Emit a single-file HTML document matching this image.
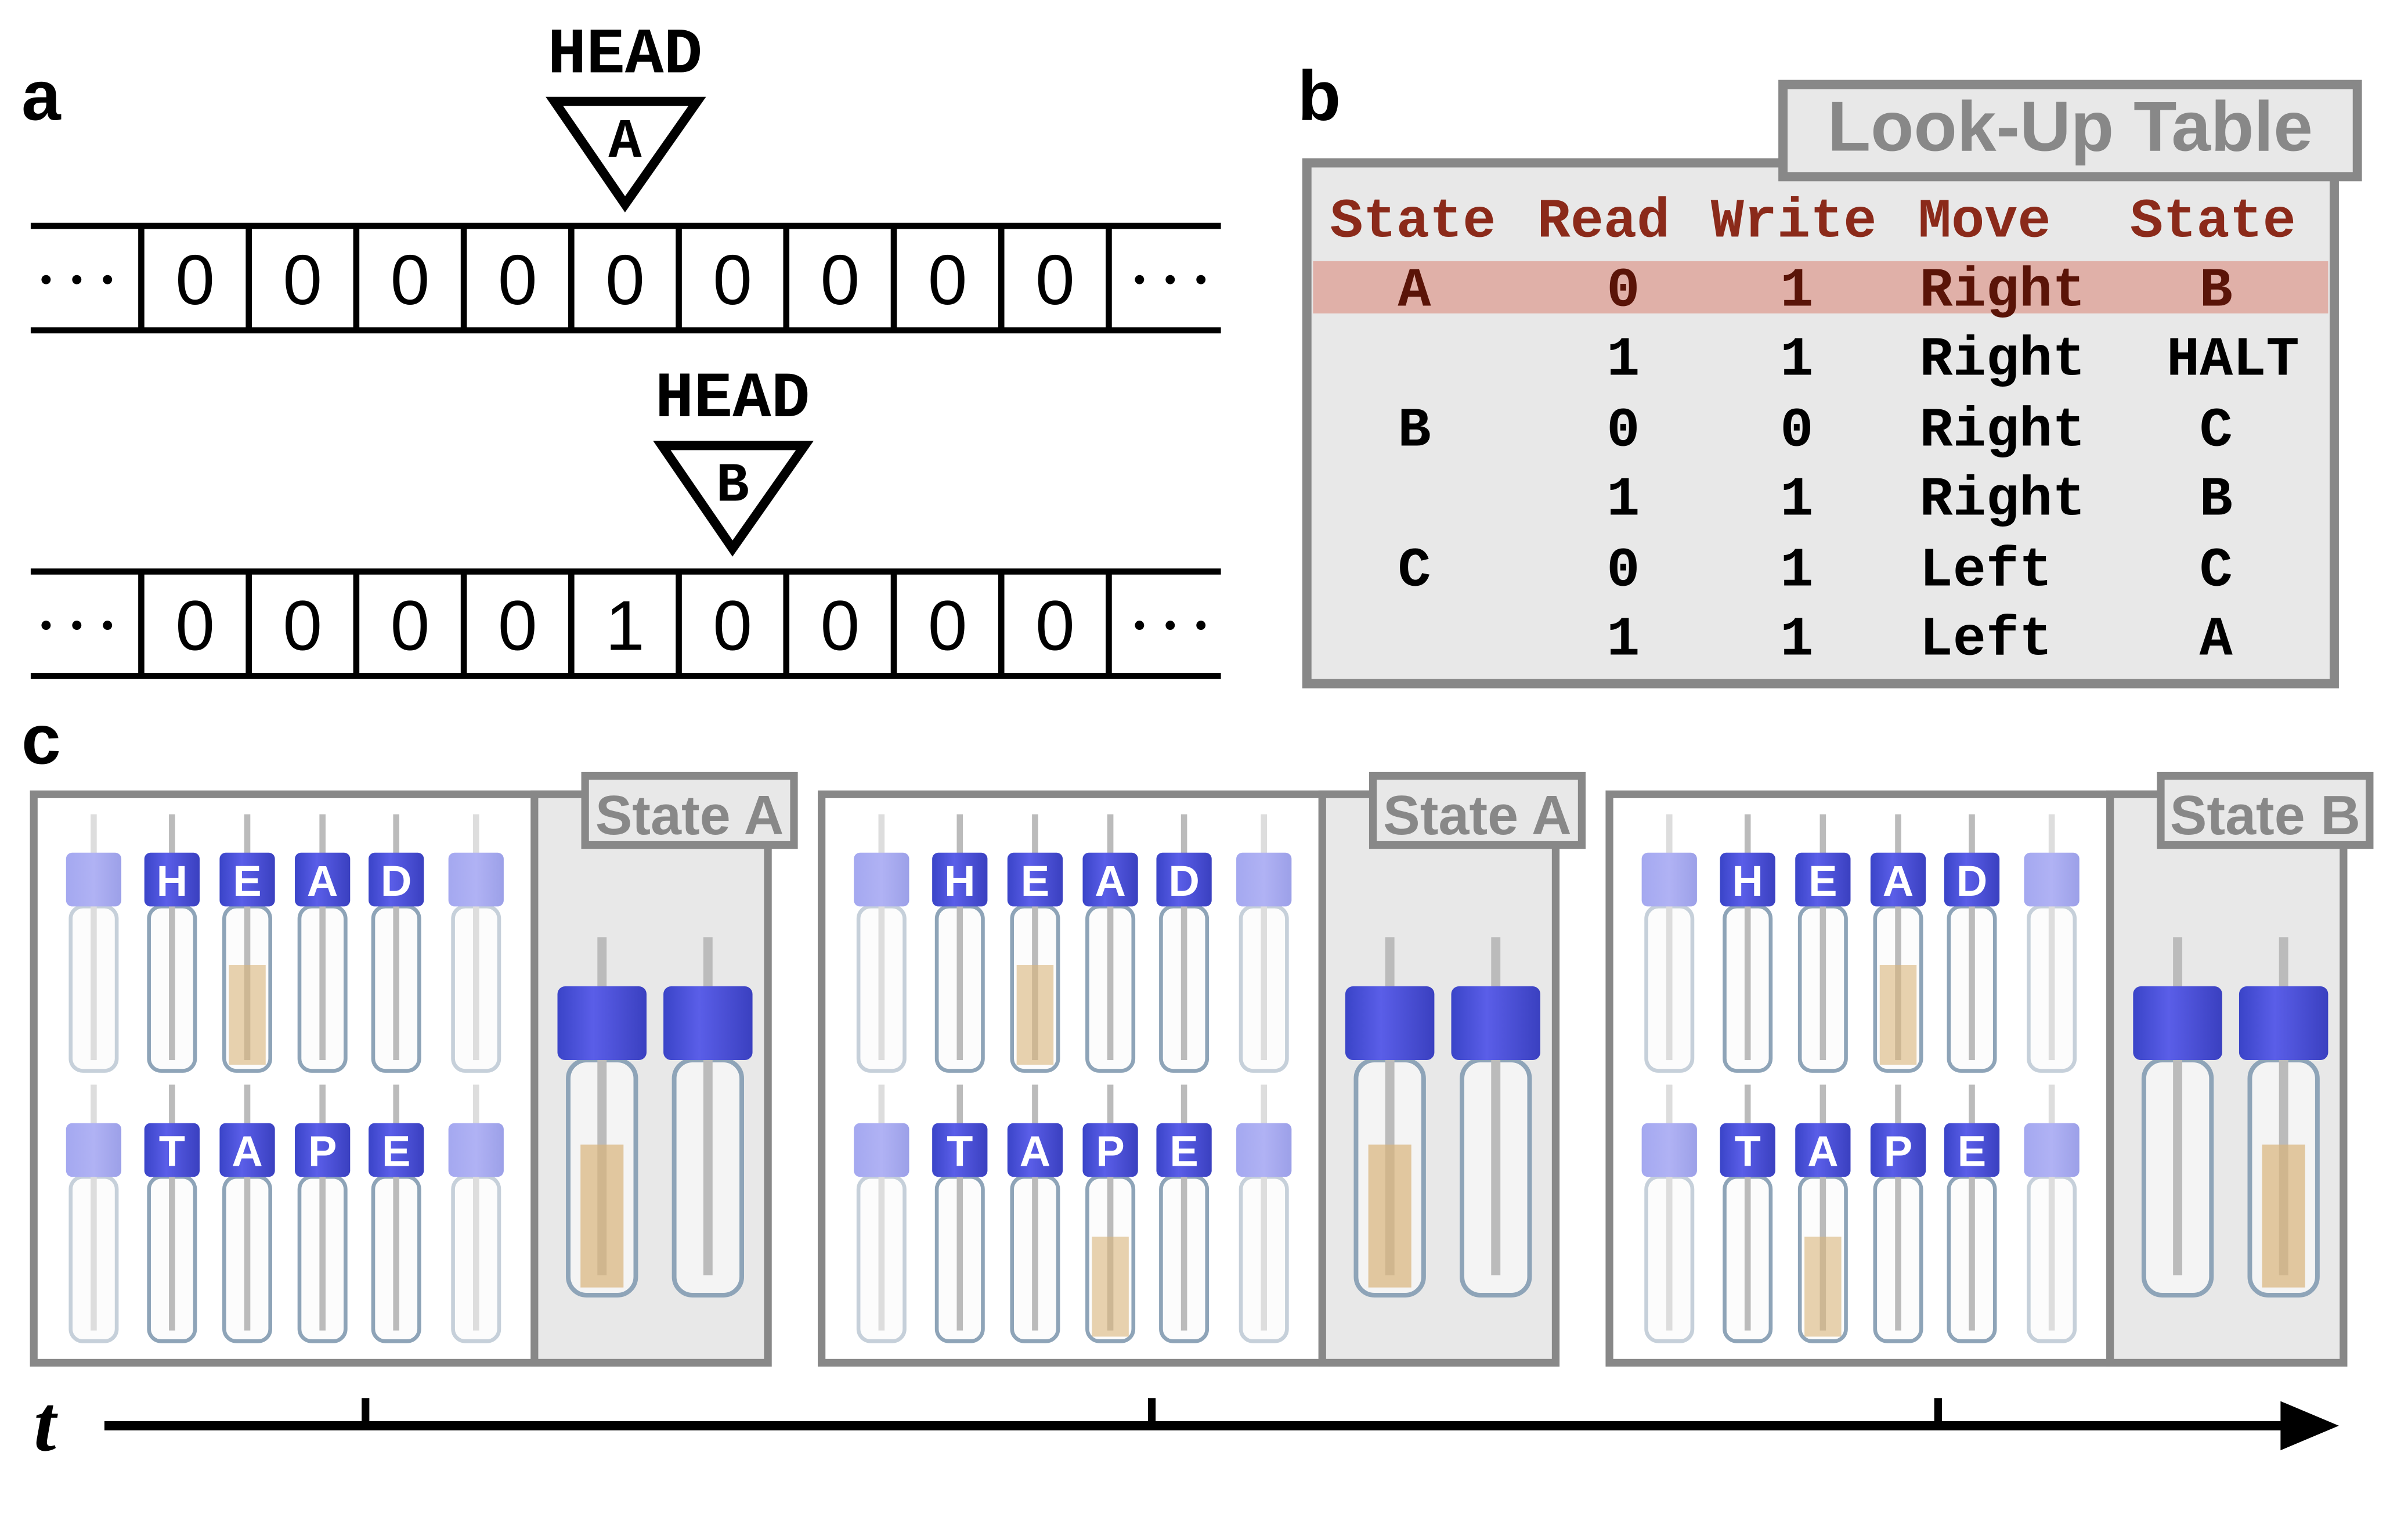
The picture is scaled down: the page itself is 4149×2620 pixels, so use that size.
<!DOCTYPE html>
<html><head><meta charset="utf-8"><style>
html,body{margin:0;padding:0;background:#fff;}
svg{display:block;}
.mono{font-family:"Liberation Mono",monospace;font-weight:bold;}
.sans{font-family:"Liberation Sans",sans-serif;font-weight:bold;}
</style></head><body>
<svg width="4149" height="2620" viewBox="0 0 1568 990" preserveAspectRatio="none" xmlns="http://www.w3.org/2000/svg">
<defs>
<linearGradient id="cap" x1="0" x2="1" y1="0" y2="0">
<stop offset="0" stop-color="#3a44c8"/><stop offset="0.4" stop-color="#5a5ee8"/><stop offset="1" stop-color="#3a40c0"/></linearGradient>
<linearGradient id="capl" x1="0" x2="1"><stop offset="0" stop-color="#a4a8f0"/><stop offset="0.5" stop-color="#b0b2f4"/><stop offset="1" stop-color="#9ca0e8"/></linearGradient>
</defs>
<rect width="1568" height="990" fill="#fff"/>
<text x="14" y="78" class="sans" font-size="46">a</text>
<text x="845" y="78" class="sans" font-size="46">b</text>
<text x="14" y="497" class="sans" font-size="46">c</text>

<g stroke="#000" stroke-width="4" fill="none">
<line x1="20" y1="147" x2="795" y2="147"/><line x1="20" y1="215" x2="795" y2="215"/>
<line x1="20" y1="372" x2="795" y2="372"/><line x1="20" y1="440" x2="795" y2="440"/>
<g id="cells">
<line x1="92" y1="147" x2="92" y2="215"/><line x1="162" y1="147" x2="162" y2="215"/><line x1="232" y1="147" x2="232" y2="215"/><line x1="302" y1="147" x2="302" y2="215"/><line x1="372" y1="147" x2="372" y2="215"/><line x1="442" y1="147" x2="442" y2="215"/><line x1="512" y1="147" x2="512" y2="215"/><line x1="582" y1="147" x2="582" y2="215"/><line x1="652" y1="147" x2="652" y2="215"/><line x1="722" y1="147" x2="722" y2="215"/>
</g>
<use href="#cells" transform="translate(0,225)"/>
<polygon points="361,66 454,66 407,133" stroke-width="6"/>
<polygon points="431,290 524,290 477,357" stroke-width="6"/>
</g>
<g class="sans" font-size="46" text-anchor="middle" style="font-weight:normal">
<text x="127" y="198">0</text><text x="197" y="198">0</text><text x="267" y="198">0</text><text x="337" y="198">0</text><text x="407" y="198">0</text><text x="477" y="198">0</text><text x="547" y="198">0</text><text x="617" y="198">0</text><text x="687" y="198">0</text>
<text x="127" y="423">0</text><text x="197" y="423">0</text><text x="267" y="423">0</text><text x="337" y="423">0</text><text x="407" y="423">1</text><text x="477" y="423">0</text><text x="547" y="423">0</text><text x="617" y="423">0</text><text x="687" y="423">0</text>
</g>
<g fill="#000">
<circle cx="30" cy="182" r="3"/><circle cx="50" cy="182" r="3"/><circle cx="70" cy="182" r="3"/>
<circle cx="742" cy="182" r="3"/><circle cx="762" cy="182" r="3"/><circle cx="782" cy="182" r="3"/>
<circle cx="30" cy="407" r="3"/><circle cx="50" cy="407" r="3"/><circle cx="70" cy="407" r="3"/>
<circle cx="742" cy="407" r="3"/><circle cx="762" cy="407" r="3"/><circle cx="782" cy="407" r="3"/>
</g>
<g class="mono" text-anchor="middle">
<text x="407" y="47" font-size="42">HEAD</text>
<text x="407" y="102" font-size="36">A</text>
<text x="477" y="271" font-size="42">HEAD</text>
<text x="477" y="326" font-size="36">B</text>
</g>

<rect x="851" y="106" width="669" height="339" fill="#e8e8e8" stroke="#888" stroke-width="6"/>
<rect x="1161" y="55" width="374" height="60" fill="#e8e8e8" stroke="#888" stroke-width="6"/>
<text x="1348" y="98" class="sans" font-size="46" fill="#888" text-anchor="middle">Look-Up Table</text>
<rect x="855" y="170" width="661" height="34" fill="#e0b0a8"/>
<g class="mono" font-size="36" fill="#8b2a1a">
<text x="866" y="154">State</text><text x="1001" y="154">Read</text><text x="1114" y="154">Write</text><text x="1249" y="154">Move</text><text x="1387" y="154">State</text>
</g>
<g class="mono" font-size="36">
<g fill="#5a1408"><text x="921" y="199" text-anchor="middle">A</text><text x="1057" y="199" text-anchor="middle">0</text><text x="1170" y="199" text-anchor="middle">1</text><text x="1250" y="199">Right</text><text x="1443" y="199" text-anchor="middle">B</text></g>
<text x="1057" y="244" text-anchor="middle">1</text><text x="1170" y="244" text-anchor="middle">1</text><text x="1250" y="244">Right</text><text x="1454" y="244" text-anchor="middle">HALT</text>
<text x="921" y="290" text-anchor="middle">B</text><text x="1057" y="290" text-anchor="middle">0</text><text x="1170" y="290" text-anchor="middle">0</text><text x="1250" y="290">Right</text><text x="1443" y="290" text-anchor="middle">C</text>
<text x="1057" y="335" text-anchor="middle">1</text><text x="1170" y="335" text-anchor="middle">1</text><text x="1250" y="335">Right</text><text x="1443" y="335" text-anchor="middle">B</text>
<text x="921" y="381" text-anchor="middle">C</text><text x="1057" y="381" text-anchor="middle">0</text><text x="1170" y="381" text-anchor="middle">1</text><text x="1250" y="381">Left</text><text x="1443" y="381" text-anchor="middle">C</text>
<text x="1057" y="426" text-anchor="middle">1</text><text x="1170" y="426" text-anchor="middle">1</text><text x="1250" y="426">Left</text><text x="1443" y="426" text-anchor="middle">A</text>
</g>

<defs>
<g id="tubeL">
<rect x="-15" y="590" width="30" height="107" rx="8" fill="#fcfcfc" stroke="#c6d0da" stroke-width="2.5"/>
<rect x="-2" y="530" width="4" height="160" fill="#ddd"/>
<rect x="-18" y="555" width="36" height="35" rx="4" fill="url(#capl)"/>
</g>
<g id="tubeD">
<rect x="-15" y="590" width="30" height="107" rx="8" fill="#fcfcfc" stroke="#8ea4b8" stroke-width="2.5"/>
<rect x="-2" y="530" width="4" height="160" fill="#bbb"/>
</g>
<g id="liq"><rect x="-12" y="628" width="24" height="65" fill="#d8b47a" opacity="0.6"/></g>
<g id="bigT">
<rect x="-22" y="690" width="44" height="153" rx="12" fill="#f4f4f4" stroke="#8ea4b8" stroke-width="3"/>
<rect x="-3" y="610" width="6" height="220" fill="#bbb"/>
</g>
<g id="bigC"><rect x="-29" y="642" width="58" height="48" rx="5" fill="url(#cap)"/></g>
<g id="panel">
<rect x="22" y="517" width="478" height="370" fill="#fff" stroke="#888" stroke-width="5"/>
<rect x="348" y="517" width="152" height="370" fill="#e8e8e8" stroke="#888" stroke-width="5"/>
<use href="#tubeL" x="61"/><use href="#tubeD" x="112"/><use href="#tubeD" x="161"/><use href="#tubeD" x="210"/><use href="#tubeD" x="258"/><use href="#tubeL" x="310"/>
<use href="#tubeL" x="61" y="176"/><use href="#tubeD" x="112" y="176"/><use href="#tubeD" x="161" y="176"/><use href="#tubeD" x="210" y="176"/><use href="#tubeD" x="258" y="176"/><use href="#tubeL" x="310" y="176"/>
<use href="#bigT" x="392"/><use href="#bigT" x="461"/>
</g>
<g id="caps">
<rect x="94" y="555" width="36" height="35" rx="4" fill="url(#cap)"/><rect x="143" y="555" width="36" height="35" rx="4" fill="url(#cap)"/><rect x="192" y="555" width="36" height="35" rx="4" fill="url(#cap)"/><rect x="240" y="555" width="36" height="35" rx="4" fill="url(#cap)"/>
<rect x="94" y="731" width="36" height="35" rx="4" fill="url(#cap)"/><rect x="143" y="731" width="36" height="35" rx="4" fill="url(#cap)"/><rect x="192" y="731" width="36" height="35" rx="4" fill="url(#cap)"/><rect x="240" y="731" width="36" height="35" rx="4" fill="url(#cap)"/>
<use href="#bigC" x="392"/><use href="#bigC" x="461"/>
<g class="sans" font-size="28" fill="#fff" text-anchor="middle">
<text x="112" y="583">H</text><text x="161" y="583">E</text><text x="210" y="583">A</text><text x="258" y="583">D</text>
<text x="112" y="759">T</text><text x="161" y="759">A</text><text x="210" y="759">P</text><text x="258" y="759">E</text>
</g>
</g>
</defs>

<use href="#panel"/>
<use href="#liq" x="161"/>
<rect x="378" y="745" width="28" height="93" fill="#d8b47a" opacity="0.7"/>
<use href="#caps"/>
<rect x="381" y="505" width="136" height="45" fill="#e8e8e8" stroke="#888" stroke-width="5"/>
<text x="449" y="543" class="sans" font-size="36" fill="#888" text-anchor="middle">State A</text>

<g transform="translate(513,0)">
<use href="#panel"/>
<use href="#liq" x="161"/>
<rect x="198" y="805" width="24" height="65" fill="#d8b47a" opacity="0.6"/>
<rect x="378" y="745" width="28" height="93" fill="#d8b47a" opacity="0.7"/>
<use href="#caps"/>
<rect x="381" y="505" width="136" height="45" fill="#e8e8e8" stroke="#888" stroke-width="5"/>
<text x="449" y="543" class="sans" font-size="36" fill="#888" text-anchor="middle">State A</text>
</g>

<g transform="translate(1026,0)">
<use href="#panel"/>
<use href="#liq" x="210"/>
<rect x="149" y="805" width="24" height="65" fill="#d8b47a" opacity="0.6"/>
<rect x="447" y="745" width="28" height="93" fill="#d8b47a" opacity="0.7"/>
<use href="#caps"/>
<rect x="381" y="505" width="136" height="45" fill="#e8e8e8" stroke="#888" stroke-width="5"/>
<text x="449" y="543" class="sans" font-size="36" fill="#888" text-anchor="middle">State B</text>
</g>

<line x1="68" y1="928" x2="1495" y2="928" stroke="#000" stroke-width="6"/>
<polygon points="1485,912 1523,928 1485,944" fill="#000"/>
<g stroke="#000" stroke-width="5"><line x1="238" y1="910" x2="238" y2="928"/><line x1="750" y1="910" x2="750" y2="928"/><line x1="1262" y1="910" x2="1262" y2="928"/></g>
<text x="22" y="944" font-family="Liberation Serif,serif" font-style="italic" font-weight="bold" font-size="52">t</text>
</svg>
</body></html>
